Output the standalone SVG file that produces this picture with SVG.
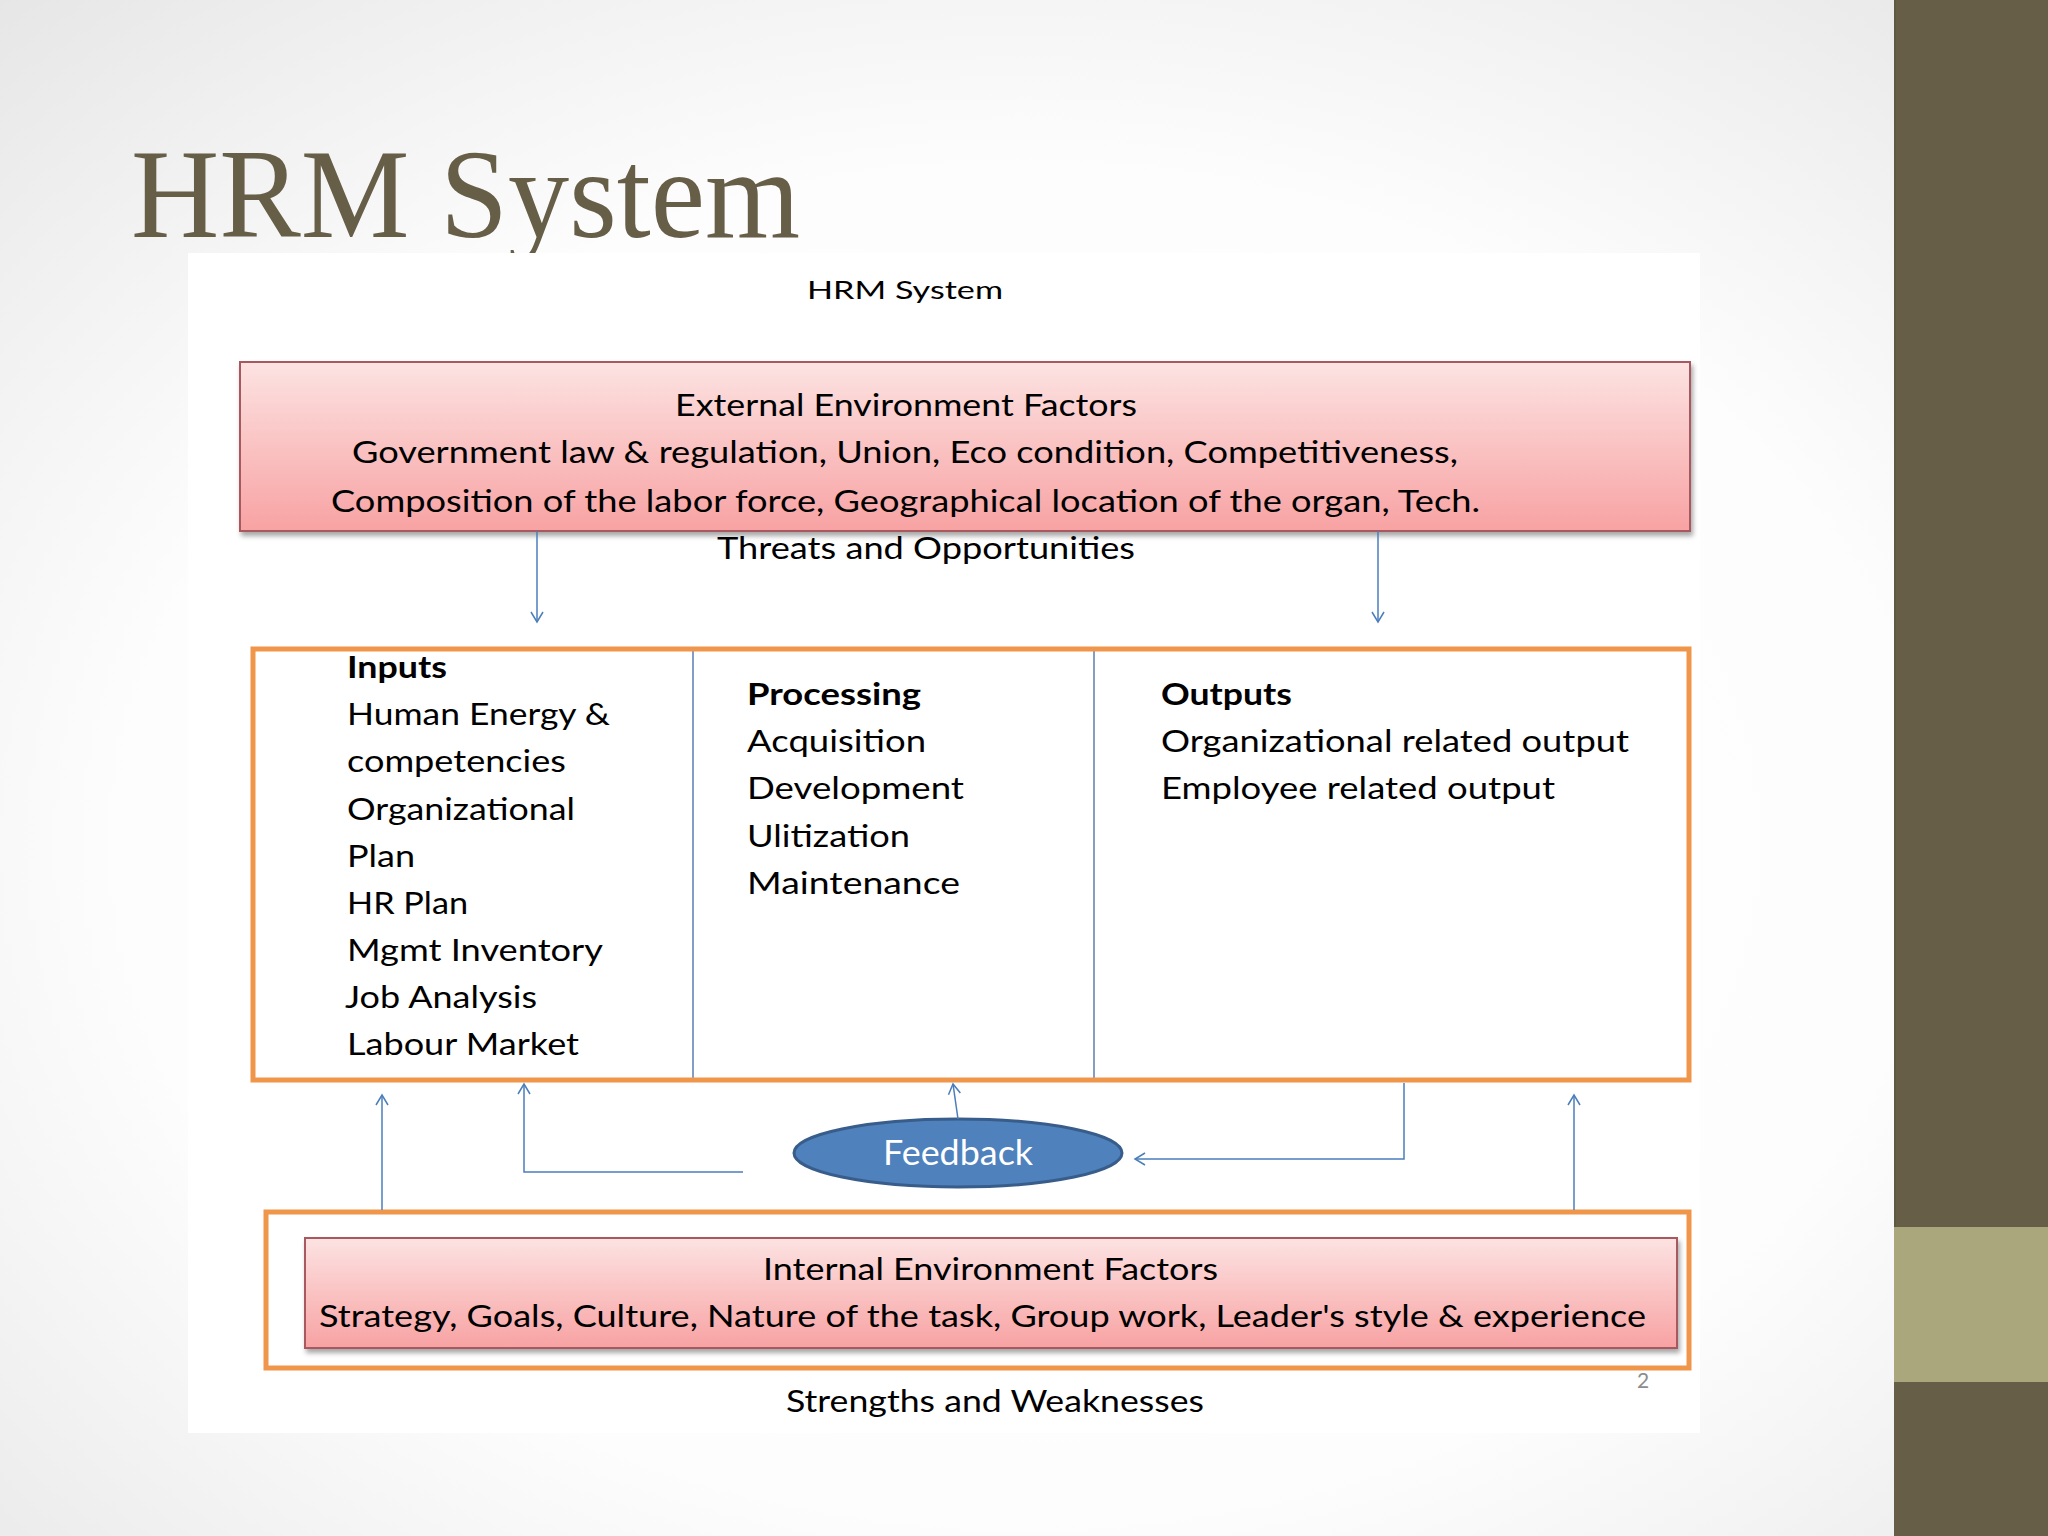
<svg xmlns="http://www.w3.org/2000/svg" width="2048" height="1536" viewBox="0 0 2048 1536">
<defs>
  <radialGradient id="bg" cx="0.5" cy="0.55" r="0.8">
    <stop offset="0" stop-color="#FFFFFF"/>
    <stop offset="0.55" stop-color="#FDFDFD"/>
    <stop offset="1" stop-color="#E2E2E2"/>
  </radialGradient>
  <linearGradient id="pink" x1="0" y1="0" x2="0" y2="1">
    <stop offset="0" stop-color="#FCE3E2"/>
    <stop offset="1" stop-color="#F8A2A3"/>
  </linearGradient>
  <filter id="shadow" x="-5%" y="-20%" width="110%" height="150%">
    <feDropShadow dx="2" dy="4" stdDeviation="2.5" flood-color="#000000" flood-opacity="0.35"/>
  </filter>
  <marker id="arrow" markerUnits="userSpaceOnUse" markerWidth="24" markerHeight="24" refX="12" refY="12" orient="auto" viewBox="0 0 24 24">
    <path d="M2 6 L12 12 L2 18" fill="none" stroke="#4A7EBB" stroke-width="1.5"/>
  </marker>
  <style>
    .t { font-family: Lato, "Liberation Sans", sans-serif; font-size: 31px; fill: #000000; }
    .b { font-weight: bold; }
    .pinkbox { fill: url(#pink); stroke: #A8585E; stroke-width: 2; filter: url(#shadow); }
    .orange { fill: none; stroke: #F0964A; stroke-width: 5; }
    .div { stroke: #5B7DB1; stroke-width: 1.5; }
    .conn { fill: none; stroke: #4A7EBB; stroke-width: 1.5; }
  </style>
</defs>

<rect x="0" y="0" width="2048" height="1536" fill="url(#bg)"/>

<text x="131" y="237" font-family="'Liberation Serif', serif" font-size="128" fill="#675E48" textLength="669" lengthAdjust="spacingAndGlyphs">HRM System</text>

<rect x="188" y="253" width="1512" height="1180" fill="#FFFFFF"/>

<rect x="1894" y="0" width="154" height="1536" fill="#675E48"/>
<rect x="1894" y="1227" width="154" height="155" fill="#ABA77C"/>
<line x1="1895" y1="0" x2="1895" y2="1227" stroke="#5C5A40" stroke-width="2"/>

<text class="t" x="807" y="299" textLength="196" lengthAdjust="spacingAndGlyphs" style="font-size:25px">HRM System</text>

<g id="external">
  <rect class="pinkbox" x="240" y="362" width="1450" height="169"/>
  <text class="t" x="675" y="416" textLength="462" lengthAdjust="spacingAndGlyphs">External Environment Factors</text>
  <text class="t" x="352" y="463" textLength="1106" lengthAdjust="spacingAndGlyphs">Government law &amp; regulation, Union, Eco condition, Competitiveness,</text>
  <text class="t" x="331" y="512" textLength="1149" lengthAdjust="spacingAndGlyphs">Composition of the labor force, Geographical location of the organ, Tech.</text>
</g>
<text id="threats" class="t" x="717" y="559" textLength="418" lengthAdjust="spacingAndGlyphs">Threats and Opportunities</text>

<g id="system">
  <rect x="253" y="649" width="1436" height="431" fill="#FFFFFF"/>
  <line class="div" x1="693" y1="649" x2="693" y2="1080"/>
  <line class="div" x1="1094" y1="649" x2="1094" y2="1080"/>
  <rect class="orange" x="253" y="649" width="1436" height="431"/>
</g>

<g id="inputs">
  <text class="t b" x="347" y="678" textLength="100" lengthAdjust="spacingAndGlyphs">Inputs</text>
  <text class="t" x="347" y="725" textLength="263" lengthAdjust="spacingAndGlyphs">Human Energy &amp;</text>
  <text class="t" x="347" y="772" textLength="219" lengthAdjust="spacingAndGlyphs">competencies</text>
  <text class="t" x="347" y="820" textLength="228" lengthAdjust="spacingAndGlyphs">Organizational</text>
  <text class="t" x="347" y="867" textLength="68" lengthAdjust="spacingAndGlyphs">Plan</text>
  <text class="t" x="347" y="914" textLength="121" lengthAdjust="spacingAndGlyphs">HR Plan</text>
  <text class="t" x="347" y="961" textLength="256" lengthAdjust="spacingAndGlyphs">Mgmt Inventory</text>
  <text class="t" x="345" y="1008" textLength="192" lengthAdjust="spacingAndGlyphs">Job Analysis</text>
  <text class="t" x="347" y="1055" textLength="232" lengthAdjust="spacingAndGlyphs">Labour Market</text>
</g>

<g id="processing">
  <text class="t b" x="747" y="705" textLength="174" lengthAdjust="spacingAndGlyphs">Processing</text>
  <text class="t" x="747" y="752" textLength="179" lengthAdjust="spacingAndGlyphs">Acquisition</text>
  <text class="t" x="747" y="799" textLength="217" lengthAdjust="spacingAndGlyphs">Development</text>
  <text class="t" x="747" y="847" textLength="163" lengthAdjust="spacingAndGlyphs">Ulitization</text>
  <text class="t" x="747" y="894" textLength="213" lengthAdjust="spacingAndGlyphs">Maintenance</text>
</g>

<g id="outputs">
  <text class="t b" x="1161" y="705" textLength="131" lengthAdjust="spacingAndGlyphs">Outputs</text>
  <text class="t" x="1161" y="752" textLength="468" lengthAdjust="spacingAndGlyphs">Organizational related output</text>
  <text class="t" x="1161" y="799" textLength="394" lengthAdjust="spacingAndGlyphs">Employee related output</text>
</g>

<g id="feedback">
  <ellipse cx="958" cy="1153" rx="164" ry="34" fill="#4F81BD" stroke="#385D8A" stroke-width="3"/>
  <text class="t" x="883" y="1165" textLength="150" lengthAdjust="spacingAndGlyphs" style="font-size:35px;fill:#FFFFFF">Feedback</text>
</g>

<g id="internal">
  <rect class="orange" x="266" y="1212" width="1423" height="156" style="fill:#FFFFFF"/>
  <rect class="pinkbox" x="305" y="1238" width="1372" height="110"/>
  <text class="t" x="763" y="1280" textLength="455" lengthAdjust="spacingAndGlyphs">Internal Environment Factors</text>
  <text class="t" x="319" y="1327" textLength="1327" lengthAdjust="spacingAndGlyphs">Strategy, Goals, Culture, Nature of the task, Group work, Leader's style &amp; experience</text>
</g>
<text id="strengths" class="t" x="786" y="1412" textLength="418" lengthAdjust="spacingAndGlyphs">Strengths and Weaknesses</text>
<text x="1637" y="1388" font-family="Lato, 'Liberation Sans', sans-serif" font-size="21" fill="#8C8C8C">2</text>

<g id="connectors">
  <path class="conn" d="M537 531 L537 622" marker-end="url(#arrow)"/>
  <path class="conn" d="M1378 531 L1378 622" marker-end="url(#arrow)"/>
  <path class="conn" d="M382 1210 L382 1095" marker-end="url(#arrow)"/>
  <path class="conn" d="M743 1172 L524 1172 L524 1084" marker-end="url(#arrow)"/>
  <path class="conn" d="M958 1119 L953 1084" marker-end="url(#arrow)"/>
  <path class="conn" d="M1404 1083 L1404 1159 L1135 1159" marker-end="url(#arrow)"/>
  <path class="conn" d="M1574 1210 L1574 1095" marker-end="url(#arrow)"/>
</g>
</svg>
